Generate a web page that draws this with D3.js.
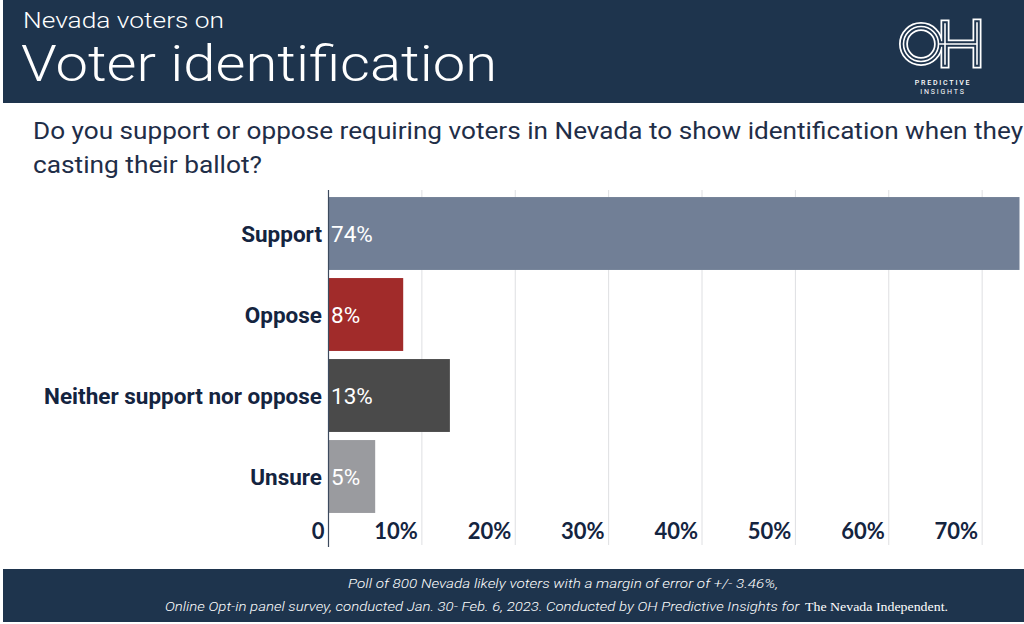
<!DOCTYPE html>
<html><head><meta charset="utf-8">
<script src="https://cdn.jsdelivr.net/npm/d3@7"></script>
<style>html,body{margin:0;padding:0;background:#fff;}svg{display:block;}</style>
</head><body>
<script>
const categories = ["Support", "Oppose", "Neither support nor oppose", "Unsure"];
const values = [74, 8, 13, 5];
const barColors = ["#717f96", "#a12b2a", "#4a4a4a", "#9a9b9f"];
const tickValues = [0, 10, 20, 30, 40, 50, 60, 70];
const tickLabels = ["0", "10%", "20%", "30%", "40%", "50%", "60%", "70%"];
const titleSmall = "Nevada voters on";
const titleBig = "Voter identification";
const question = ["Do you support or oppose requiring voters in Nevada to show identification when they", "casting their ballot?"];
const footer1 = "Poll of 800 Nevada likely voters with a margin of error of +/- 3.46%,";
const footer2a = "Online Opt-in panel survey, conducted Jan. 30- Feb. 6, 2023.  Conducted by OH Predictive Insights  for ";
const footer2b = "The Nevada Independent.";

const W = 1024, H = 624, navy = "#1e344d", ink = "#14243f";
const svg = d3.select("body").append("svg").attr("width", W).attr("height", H);

// header
svg.append("rect").attr("x", 3).attr("y", 0).attr("width", W - 3).attr("height", 103).attr("fill", navy);
svg.append("text").attr("x", 23).attr("y", 28).attr("fill", "#fff")
  .attr("font-family", "Roboto").attr("font-weight", 300).attr("font-size", 22)
  .attr("textLength", 201).attr("lengthAdjust", "spacingAndGlyphs").text(titleSmall);
svg.append("text").attr("x", 21).attr("y", 81).attr("fill", "#fff")
  .attr("font-family", "Roboto").attr("font-weight", 300).attr("font-size", 50)
  .attr("textLength", 476).attr("lengthAdjust", "spacingAndGlyphs").text(titleBig);

// logo
const logo = svg.append("g");
const hPath = "M945,24 V64 M977,23 V64 M940,44 H977";
[[9, "#fff"], [5.5, navy], [1.6, "#fff"]].forEach(([w, c]) => {
  logo.append("circle").attr("cx", 921).attr("cy", 44).attr("r", 17.5)
    .attr("fill", "none").attr("stroke", c).attr("stroke-width", w);
  logo.append("path").attr("d", hPath).attr("fill", "none").attr("stroke", c)
    .attr("stroke-width", w).attr("stroke-linecap", "square");
});
logo.append("text").attr("x", 943).attr("y", 85).attr("text-anchor", "middle").attr("fill", "#fff")
  .attr("font-family", "Roboto").attr("font-weight", 500).attr("font-size", 7).attr("letter-spacing", 1.8).text("PREDICTIVE");
logo.append("text").attr("x", 943).attr("y", 94).attr("text-anchor", "middle").attr("fill", "#fff")
  .attr("font-family", "Roboto").attr("font-weight", 400).attr("font-size", 7).attr("letter-spacing", 1.8).text("INSIGHTS");

// question
svg.append("text").attr("x", 33).attr("y", 139).attr("fill", "#1f2e48")
  .attr("font-family", "Roboto").attr("font-size", 24)
  .attr("textLength", 990).attr("lengthAdjust", "spacingAndGlyphs").text(question[0]);
svg.append("text").attr("x", 33).attr("y", 173).attr("fill", "#1f2e48")
  .attr("font-family", "Roboto").attr("font-size", 24)
  .attr("textLength", 229).attr("lengthAdjust", "spacingAndGlyphs").text(question[1]);

// scales
const x = d3.scaleLinear().domain([0, 74]).range([328.5, 1019.5]);
const y = d3.scaleBand().domain(categories).range([193, 517]).paddingInner(0.1).paddingOuter(0.05);

// gridlines
svg.append("g").selectAll("line").data(tickValues.filter(d => d > 0)).join("line")
  .attr("x1", d => x(d)).attr("x2", d => x(d)).attr("y1", 190).attr("y2", 545)
  .attr("stroke", "#dedfe2").attr("stroke-width", 1);

// bars
const data = categories.map((c, i) => ({c, v: values[i], col: barColors[i]}));
svg.append("g").selectAll("rect").data(data).join("rect")
  .attr("x", x(0)).attr("y", d => y(d.c)).attr("width", d => x(d.v) - x(0)).attr("height", y.bandwidth())
  .attr("fill", d => d.col);

// axis line
svg.append("line").attr("x1", x(0)).attr("x2", x(0)).attr("y1", 190).attr("y2", 547)
  .attr("stroke", "#3c4a5e").attr("stroke-width", 1.2);

// category labels
svg.append("g").selectAll("text").data(data).join("text")
  .attr("x", 322).attr("y", d => y(d.c) + y.bandwidth() / 2 + 8).attr("text-anchor", "end")
  .attr("fill", ink).attr("font-family", "Roboto").attr("font-weight", 700).attr("font-size", 22.5)
  .text(d => d.c);

// value labels
svg.append("g").selectAll("text").data(data).join("text")
  .attr("x", 331).attr("y", d => y(d.c) + y.bandwidth() / 2 + 8)
  .attr("fill", "#fff").attr("font-family", "Roboto").attr("font-size", 22.5)
  .text(d => d.v + "%");

// tick labels
svg.append("g").selectAll("text").data(tickValues).join("text")
  .attr("x", d => x(d) - 4).attr("y", 539).attr("text-anchor", "end")
  .attr("fill", ink).attr("font-family", "Lato").attr("font-weight", 700).attr("font-size", 22)
  .text((d, i) => tickLabels[i]);

// footer
svg.append("rect").attr("x", 3).attr("y", 569).attr("width", W - 3).attr("height", 53).attr("fill", navy);
svg.append("text").attr("x", 563).attr("y", 588).attr("text-anchor", "middle").attr("fill", "#fff")
  .attr("font-family", "Roboto").attr("font-style", "italic").attr("font-weight", 300).attr("font-size", 13)
  .attr("textLength", 430).attr("lengthAdjust", "spacingAndGlyphs").text(footer1);
const f2 = svg.append("text").attr("x", 165).attr("y", 611).attr("fill", "#fff")
  .attr("font-family", "Roboto").attr("font-style", "italic").attr("font-weight", 300).attr("font-size", 13);
f2.append("tspan").attr("textLength", 638).attr("lengthAdjust", "spacingAndGlyphs").text(footer2a);
f2.append("tspan").attr("x", 805).attr("font-family", "Liberation Serif").attr("font-style", "normal")
  .attr("font-size", 13).attr("textLength", 143).attr("lengthAdjust", "spacingAndGlyphs").text(footer2b);
</script>
</body></html>
